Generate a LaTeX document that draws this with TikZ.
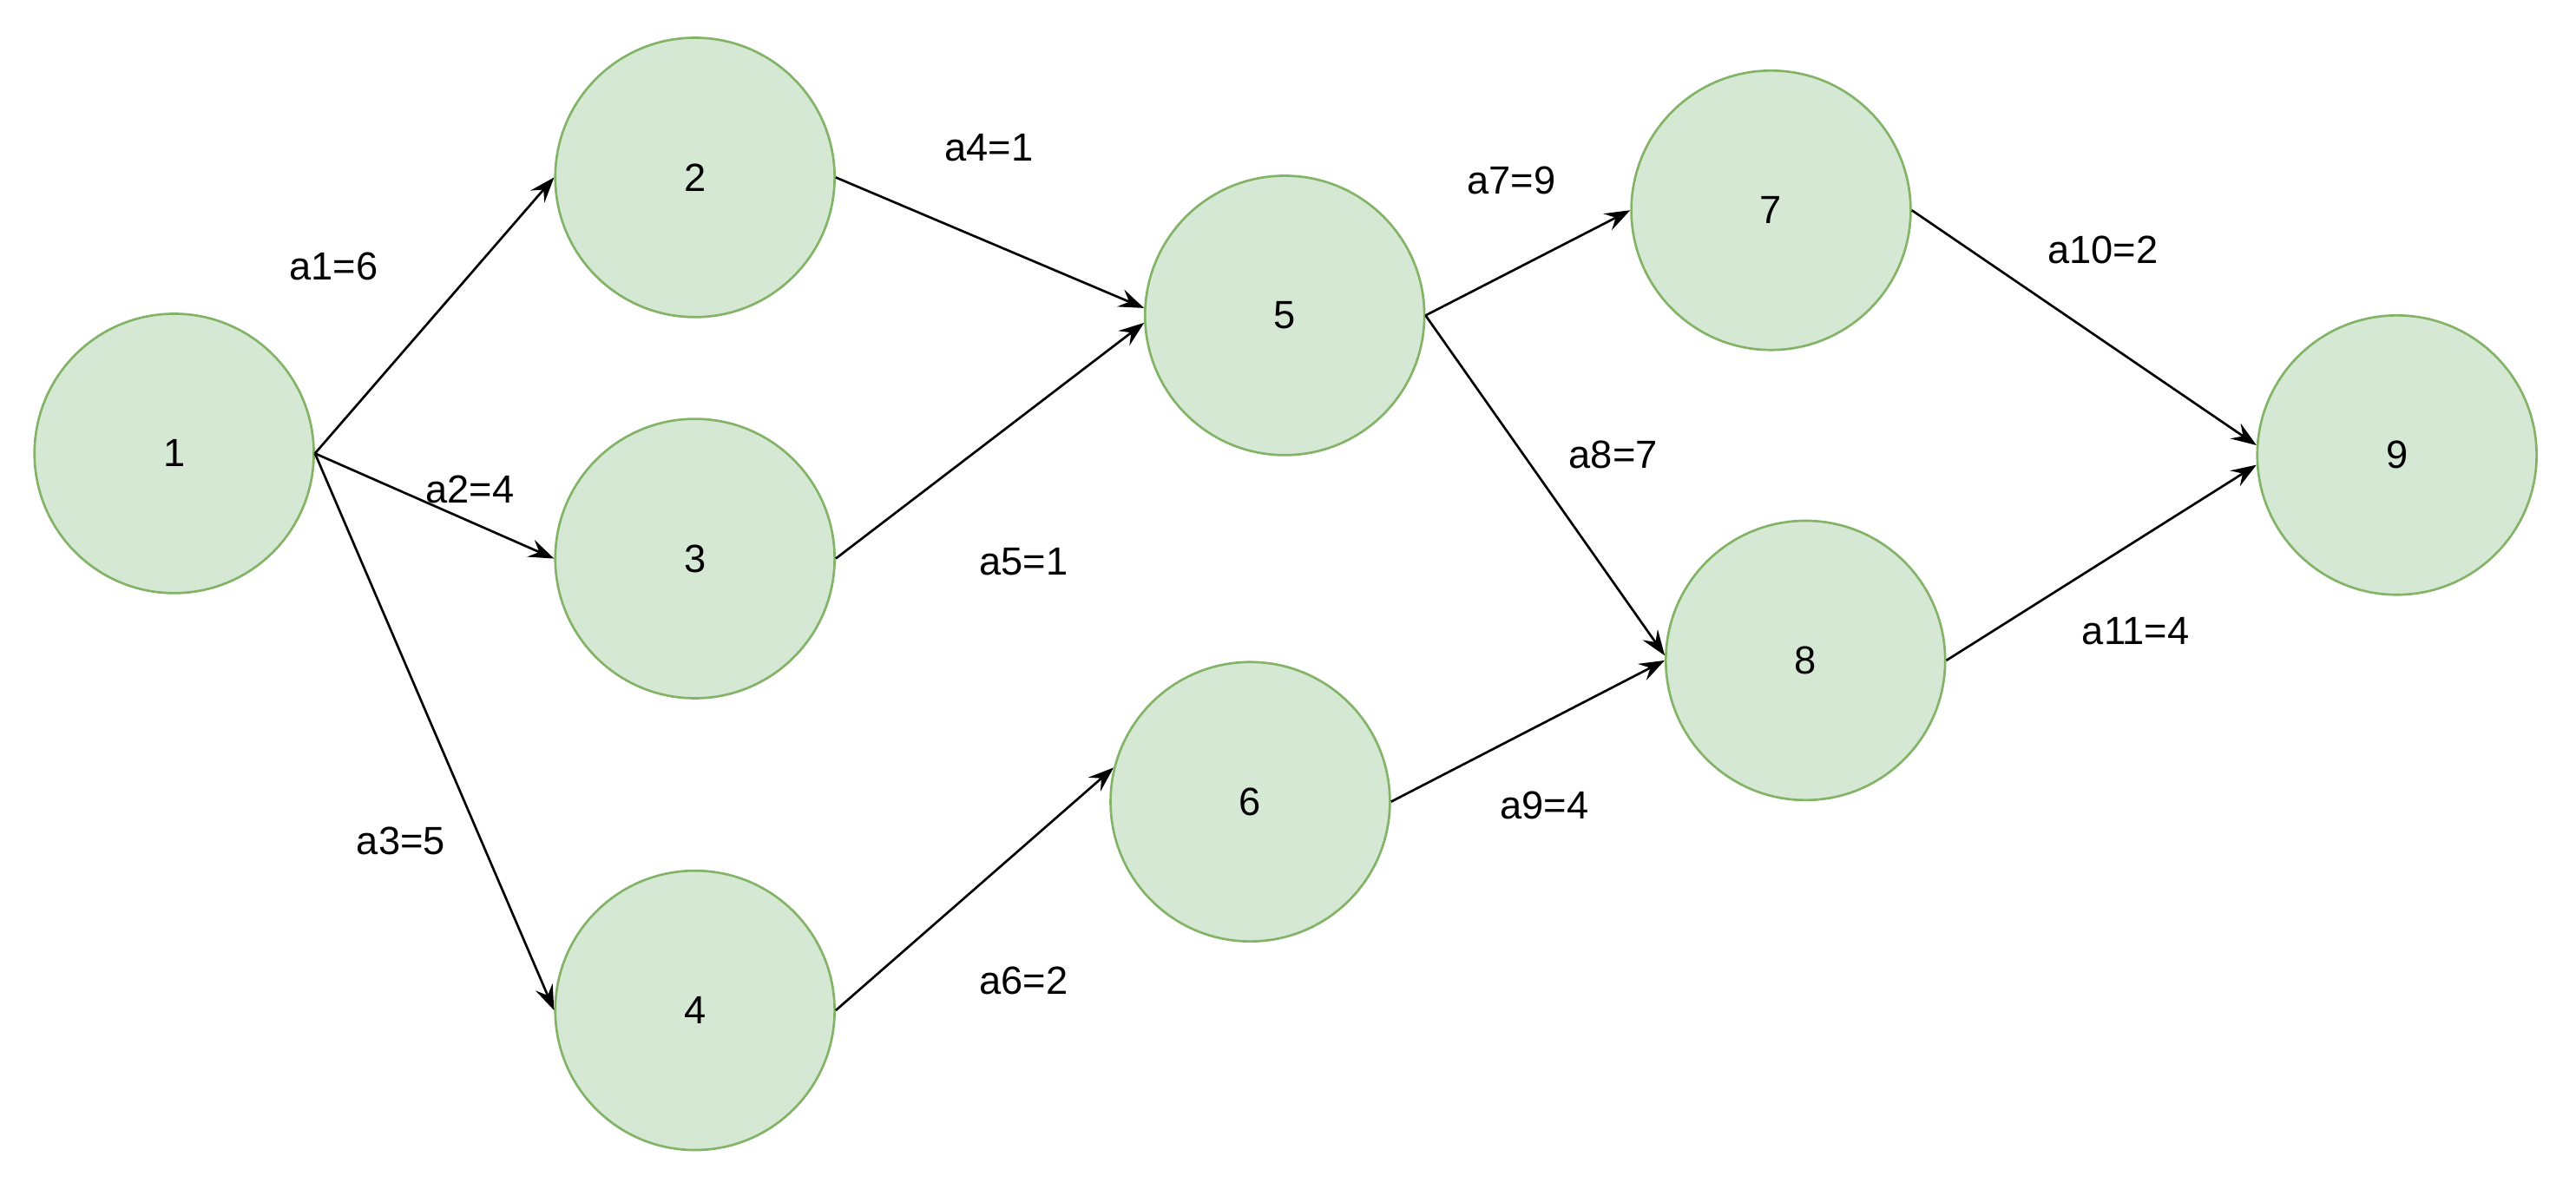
\documentclass[tikz,border=0pt]{standalone}
\usepackage{fontspec}
\setmainfont{Liberation Sans}
\usetikzlibrary{arrows.meta}
\definecolor{nodefill}{HTML}{D5E8D4}
\definecolor{nodeline}{HTML}{82B366}
\begin{document}
\begin{tikzpicture}[x=0.025cm, y=-0.025cm,
                event/.style={draw=nodeline, circle, fill=nodefill, line width=1pt, minimum size=4.25cm, font=\fontsize{17}{20}\selectfont},
                cost/.style={font=\fontsize{17}{20}\selectfont},
                arrow/.style={-{Stealth[length=11pt, width=8pt, inset=4pt]}, line width=1pt}]
                \useasboundingbox (0,0) rectangle (1568,720);

                \node[event] (n1) at (106,276) {1};
                \node[event] (n2) at (423,108) {2};
                \node[event] (n3) at (423,340) {3};
                \node[event] (n4) at (423,615) {4};
                \node[event] (n5) at (782,192) {5};
                \node[event] (n6) at (761,488) {6};
                \node[event] (n7) at (1078,128) {7};
                \node[event] (n8) at (1099,402) {8};
                \node[event] (n9) at (1459,277) {9};

                \draw[arrow] (n1.east) -- (n2.west);
                \draw[arrow] (n1.east) -- (n3.west);
                \draw[arrow] (n1.east) -- (n4.west);
                \draw[arrow] (n2.east) -- (n5.177);
                \draw[arrow] (n3.east) -- (n5.183);
                \draw[arrow] (n4.east) -- (n6.166);
                \draw[arrow] (n5.east) -- (n7.west);
                \draw[arrow] (n5.east) -- (n8.178);
                \draw[arrow] (n6.east) -- (n8.west);
                \draw[arrow] (n7.east) -- (n9.176);
                \draw[arrow] (n8.east) -- (n9.184);

                \node[cost] (c1) at (203,162) {a1=6};
                \node[cost] (c2) at (286,298) {a2=4};
                \node[cost] (c3) at (244,512) {a3=5};
                \node[cost] (c4) at (602,90) {a4=1};
                \node[cost] (c5) at (623,342) {a5=1};
                \node[cost] (c6) at (623,597) {a6=2};
                \node[cost] (c7) at (920,110) {a7=9};
                \node[cost] (c8) at (982,277) {a8=7};
                \node[cost] (c9) at (940,490) {a9=4};
                \node[cost] (c10) at (1280,152) {a10=2};
                \node[cost] (c11) at (1300,384) {a11=4};
\end{tikzpicture}
\end{document}
